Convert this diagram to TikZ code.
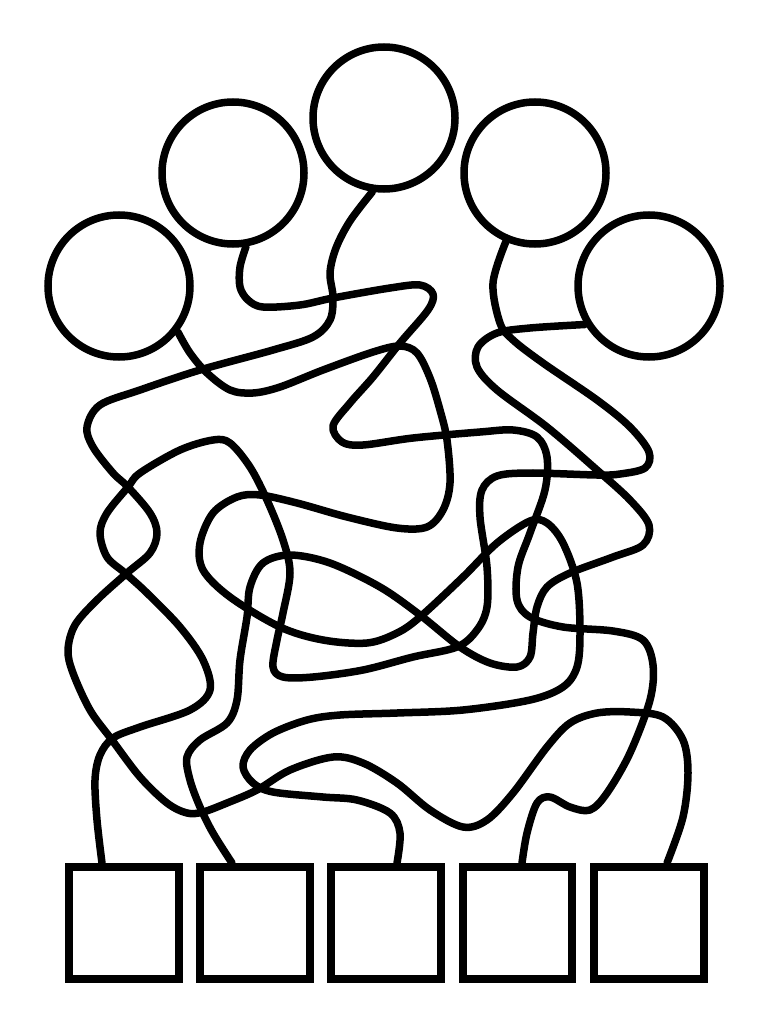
\documentclass[tikz,border=0pt]{standalone}
\usetikzlibrary{calc}
\begin{document}
\begin{tikzpicture}[x=1pt,y=-1pt,
  ring/.style={circle, draw, line width=7.5pt, minimum size=142pt, inner sep=0pt},
  box/.style={rectangle, draw, line width=8pt, minimum width=109.5pt, minimum height=112pt, inner sep=0pt},
  wire/.style={line width=7.5pt, line cap=round, line join=round}]
\useasboundingbox (0,0) rectangle (768,1024);
% circles
\node[ring] (c1) at (119,286) {};
\node[ring] (c2) at (233,173) {};
\node[ring] (c3) at (384,118) {};
\node[ring] (c4) at (535,173) {};
\node[ring] (c5) at (649,286) {};
% squares
\node[box] (s1) at (124,923) {};
\node[box] (s2) at (255,923) {};
\node[box] (s3) at (386,923) {};
\node[box] (s4) at (517.5,923) {};
\node[box] (s5) at (649,923) {};
% wire ends on squares
\coordinate (e1) at ($(s1.north)+(-22,0)$);
\coordinate (e2) at ($(s2.north)+(-23,0)$);
\coordinate (e3) at ($(s3.north)+(11,0)$);
\coordinate (e4) at ($(s4.north)+(4.5,0)$);
\coordinate (e5) at ($(s5.north)+(18,0)$);
% C1 -> square 3
\draw[wire] plot[smooth, tension=0.55] coordinates {(c1.322) (190,353) (207,373) (230,390) (253,393) (280,387) (323,370) (373,352) (400,346) (417,353) (430,378) (440,410) (447,440) (450,483) (443,510) (427,527) (397,528) (347,517) (297,503) (260,495) (237,497) (213,513) (200,543) (203,570) (230,597) (280,627) (323,640) (367,643) (397,633) (420,617) (463,577) (497,543) (530,521) (547,523) (563,543) (577,583) (580,633) (577,667) (563,687) (530,700) (463,710) (397,713) (340,715) (307,720) (273,733) (250,750) (243,767) (253,783) (273,792) (323,797) (357,800) (390,813) (400,833) (e3)};
% C2 -> square 4
\draw[wire] plot[smooth, tension=0.55] coordinates {(c2.280) (240,267) (240,287) (248,300) (263,307) (300,305) (333,298) (390,288) (420,285) (433,294) (428,310) (400,343) (373,377) (350,403) (333,426) (342,442) (363,445) (413,438) (480,432) (513,430) (537,437) (547,457) (545,490) (530,533) (518,567) (517,600) (530,617) (563,627) (613,631) (643,640) (653,665) (650,700) (630,753) (607,793) (590,810) (570,807) (550,797) (537,803) (527,833) (e4)};
% C3 -> square 5
\draw[wire] plot[smooth, tension=0.55] coordinates {(c3.261) (350,221) (336,248) (330,273) (333,297) (330,320) (313,337) (273,350) (200,370) (140,390) (100,405) (87,427) (93,447) (113,473) (128,487) (150,513) (157,533) (150,553) (127,573) (97,600) (75,625) (68,650) (73,673) (90,710) (112,740) (140,777) (167,803) (187,813) (203,812) (227,803) (257,790) (290,770) (333,757) (363,763) (397,783) (430,810) (463,827) (487,820) (513,793) (547,747) (570,723) (597,713) (630,712) (663,717) (683,740) (688,773) (683,817) (e5)};
% C4 -> square 1
\draw[wire] plot[smooth, tension=0.55] coordinates {(c4.247) (493,283) (500,323) (513,340) (543,363) (597,400) (630,427) (649,452) (645,468) (620,474) (597,475) (530,473) (497,476) (482,490) (480,517) (487,567) (487,607) (477,630) (457,647) (413,657) (363,670) (313,677) (283,677) (273,667) (277,640) (283,613) (290,573) (283,540) (267,500) (250,467) (230,443) (213,440) (180,450) (140,473) (128,487) (107,513) (100,533) (107,557) (125,573) (147,593) (180,627) (203,660) (210,690) (190,710) (140,727) (113,738) (100,755) (95,780) (97,820) (e1)};
% C5 -> square 2
\draw[wire] plot[smooth, tension=0.55] coordinates {(c5.211) (530,328) (497,333) (478,347) (477,367) (497,390) (547,427) (597,470) (630,500) (649,525) (643,545) (613,557) (570,573) (547,587) (537,607) (533,633) (530,657) (517,667) (490,663) (460,647) (420,615) (380,587) (330,563) (290,555) (263,563) (250,587) (247,617) (240,660) (237,700) (227,723) (200,740) (187,757) (190,780) (200,807) (213,833) (e2)};
\end{tikzpicture}
\end{document}
